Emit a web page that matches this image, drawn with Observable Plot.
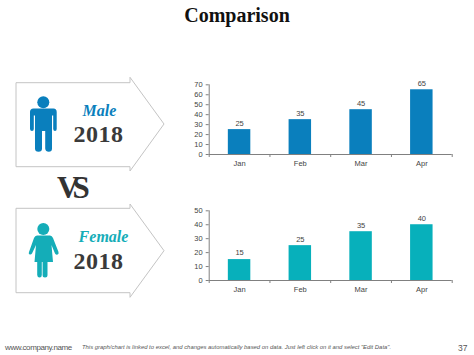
<!DOCTYPE html>
<html><head><meta charset="utf-8">
<script src="https://cdn.jsdelivr.net/npm/d3@7"></script>
<script src="https://cdn.jsdelivr.net/npm/@observablehq/plot@0.6"></script>
<style>
html,body{margin:0;padding:0;background:#fff;}
#page{position:relative;width:474px;height:355px;overflow:hidden;font-family:"Liberation Sans",sans-serif;}
.t{position:absolute;white-space:nowrap;line-height:1;}
.serif{font-family:"Liberation Serif",serif;font-weight:bold;}
.c{transform:translateX(-50%);}
.chart{position:absolute;left:0;}
.chart svg{display:block;overflow:visible;}
#deco{position:absolute;left:0;top:0;}
</style></head><body>
<div id="page">
<svg id="deco" width="474" height="355">
  <g fill="#fff" stroke="#c4c4c4" stroke-width="1">
    <path d="M16 82.7H130V77.3L164 124 130 171V166.7H16Z"/>
    <path d="M16 208.3H130V204L164 250.7 130 297.3V292.7H16Z"/>
  </g>
  <g fill="#0a7fbd">
    <circle cx="43.3" cy="102.3" r="6"/>
    <path d="M33.5 108.5H53.5Q56.7 108.5 56.7 112V129Q56.7 131 55 131T53.2 129V115.5H52V148.5Q52 151.7 48.8 151.7T45.2 148.5V131H42V148.5Q42 151.7 38.5 151.7T35 148.5V115.5H33.8V129Q33.8 131 32 131T30 129V112Q30 108.5 33.5 108.5Z"/>
  </g>
  <g fill="#14adb8">
    <circle cx="43.3" cy="229" r="6"/>
    <path d="M37 235.5H50Q52 235.5 53 238L58.5 252Q59 254 57.6 254.6T55 253.5L51.5 245 53 262H47.5V275Q47.5 277.5 45 277.5T42.6 275V262H44.2V262H41.8V275Q41.8 277.5 39.6 277.5T37.2 275V262H34.5L36 245 32 253.5Q31 255 29.6 254.4T29 252L34 238Q35 235.5 37 235.5Z"/>
  </g>
</svg>

<div class="t serif c" id="title" style="left:237px;top:5px;font-size:20px;color:#111;">Comparison</div>
<div class="t serif c" style="left:99.5px;top:102.5px;font-size:16px;font-style:italic;color:#0a7fbd;">Male</div>
<div class="t serif c" style="left:98.5px;top:122px;font-size:24px;color:#3a3a3a;letter-spacing:.5px;">2018</div>
<div class="t serif c" style="left:103.5px;top:229px;font-size:16px;font-style:italic;color:#14adb8;">Female</div>
<div class="t serif c" style="left:98.5px;top:248.5px;font-size:24px;color:#3a3a3a;letter-spacing:.5px;">2018</div>
<div class="t serif" style="left:57px;top:172px;font-size:31px;color:#333;letter-spacing:-7px;">VS</div>

<div id="c1" class="chart" style="top:70px"></div>
<div id="c2" class="chart" style="top:196px"></div>

<div class="t" style="left:5px;top:344px;font-size:8px;color:#555;letter-spacing:-.4px;">www.company.name</div>
<div class="t" style="left:82px;top:345px;font-size:5.9px;font-style:italic;color:#555;">This graph/chart is linked to excel, and changes automatically based on data. Just left click on it and select "Edit Data".</div>
<div class="t" style="left:458px;top:344px;font-size:8.5px;color:#555;">37</div>
</div>
<script>
const months = ["Jan", "Feb", "Mar", "Apr"];
const maleValues = [25, 35, 45, 65];
const femaleValues = [15, 25, 35, 40];
const maleTicks = [0, 10, 20, 30, 40, 50, 60, 70];
const femaleTicks = [0, 10, 20, 30, 40, 50];
const maleColor = "#0a7fbd";
const femaleColor = "#07b0bb";

function chart(id, values, ticks, color) {
  const width = 474, height = 100;
  const marginLeft = 208.7, marginRight = 22.3, marginTop = 14.3, marginBottom = 16;
  const step = (width - marginLeft - marginRight) / months.length;
  const rows = months.map((m, i) => ({month: m, value: values[i]}));
  const top = ticks[ticks.length - 1];
  const perPx = top / (height - marginTop - marginBottom);
  const axisColor = "#808080", textColor = "#444";
  const svg = Plot.plot({
    width, height, marginLeft, marginRight, marginTop, marginBottom,
    style: {fontFamily: '"Liberation Sans",sans-serif', fontSize: "7.5px", background: "transparent", overflow: "visible"},
    x: {domain: months, round: false, paddingInner: 0.63, paddingOuter: 0.315, label: null},
    y: {domain: [0, top], label: null},
    marks: [
      Plot.barY(rows, {x: "month", y: "value", fill: color}),
      Plot.ruleY([0], {stroke: axisColor}),
      Plot.ruleX([months[0]], {x: d => d, y1: 0, y2: top, dx: -step / 2, stroke: axisColor}),
      Plot.ruleX(months, {x: d => d, y1: 0, y2: -3 * perPx, dx: -step / 2, stroke: axisColor}),
      Plot.ruleX([months[months.length - 1]], {x: d => d, y1: 0, y2: -3 * perPx, dx: step / 2, stroke: axisColor}),
      Plot.axisY({ticks, tickSize: 3, tickPadding: 3.5, stroke: axisColor, color: textColor, fill: textColor, label: null, tickFormat: d => String(d)}),
      Plot.axisX({tickSize: 0, tickPadding: 6, fill: textColor, label: null}),
      Plot.text(rows, {x: "month", y: "value", text: d => String(d.value), dy: -6.5, fill: textColor})
    ]
  });
  document.getElementById(id).appendChild(svg);
}
chart("c1", maleValues, maleTicks, maleColor);
chart("c2", femaleValues, femaleTicks, femaleColor);
</script>
</body></html>
